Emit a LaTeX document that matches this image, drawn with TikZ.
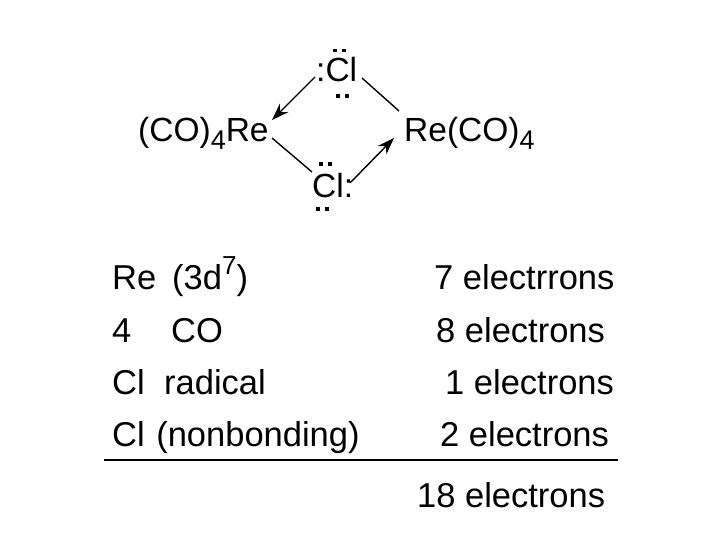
\documentclass[tikz,border=0pt]{standalone}
\usepackage{fontspec}
\setmainfont{Liberation Sans}
\usetikzlibrary{arrows.meta}
\newcommand{\lowsub}[1]{\raisebox{-8pt}{\fontsize{27}{27}\selectfont #1}}
\newcommand{\highsup}[1]{\raisebox{15pt}{\fontsize{26}{26}\selectfont #1}}
\tikzset{
  txt/.style={anchor=base west,inner sep=0pt,font=\fontsize{34.5}{40}\selectfont},
  mol/.style={anchor=base west,inner sep=0pt,font=\fontsize{33.5}{40}\selectfont},
  lonedot/.style={fill=black,inner sep=0pt,minimum size=3.4pt},
  bond/.style={line width=1.4pt},
  dative/.style={line width=1.4pt,-{Stealth[length=17pt,width=12pt]}},
  rule/.style={line width=1.5pt}
}
\begin{document}
\begin{tikzpicture}[x=1pt,y=-1pt]
\useasboundingbox (0,0) rectangle (720,540);
\fill[white] (0,0) rectangle (720,540);
% molecule
\node[mol] (clt) at (316,82) {:Cl};
\node[mol] (clb) at (312,198) {Cl:};
\node[mol] (rel) at (138,142) {(CO)\lowsub{4}Re};
\node[mol] (rer) at (404,142) {Re(CO)\lowsub{4}};
\node[lonedot] (d1) at (335,50.5) {};
\node[lonedot] (d2) at (344,50.5) {};
\node[lonedot] (d3) at (338,96) {};
\node[lonedot] (d4) at (347,96) {};
\node[lonedot] (d5) at (321,164) {};
\node[lonedot] (d6) at (330,164) {};
\node[lonedot] (d7) at (318,209) {};
\node[lonedot] (d8) at (327,209) {};
\draw[dative] ([shift={(-1,-5)}]clt.base west) -- ([shift={(134,-22)}]rel.base west);
\draw[bond] ([shift={(46,-4)}]clt.base west) -- ([shift={(-5,-31)}]rer.base west);
\draw[bond] ([shift={(134,-4)}]rel.base west) -- ([shift={(0,-26)}]clb.base west);
\draw[dative] ([shift={(38,-15)}]clb.base west) -- ([shift={(-10,-4)}]rer.base west);
% table
\node[txt] (a1) at (112,289.5) {Re};
\node[txt] (a2) at (172,289.5) {(3d\highsup{7})};
\node[txt] (b1) at (112,342) {4};
\node[txt] (b2) at (171,342) {CO};
\node[txt] (c1) at (112,394) {Cl};
\node[txt] (c2) at (164,394) {radical};
\node[txt] (d0) at (112,446) {Cl\hspace{2pt} (nonbonding)};
\node[txt] (e1) at (434,289.5) {7 electrrons};
\node[txt] (e2) at (436,342) {8 electrons};
\node[txt] (e3) at (445,394) {1 electrons};
\node[txt] (e4) at (440,446) {2 electrons};
\node[txt] (e5) at (417,507) {18 electrons};
\coordinate (rl) at (104,460);
\coordinate (rr) at (618,460);
\draw[rule] (rl) -- (rr);
\end{tikzpicture}
\end{document}
